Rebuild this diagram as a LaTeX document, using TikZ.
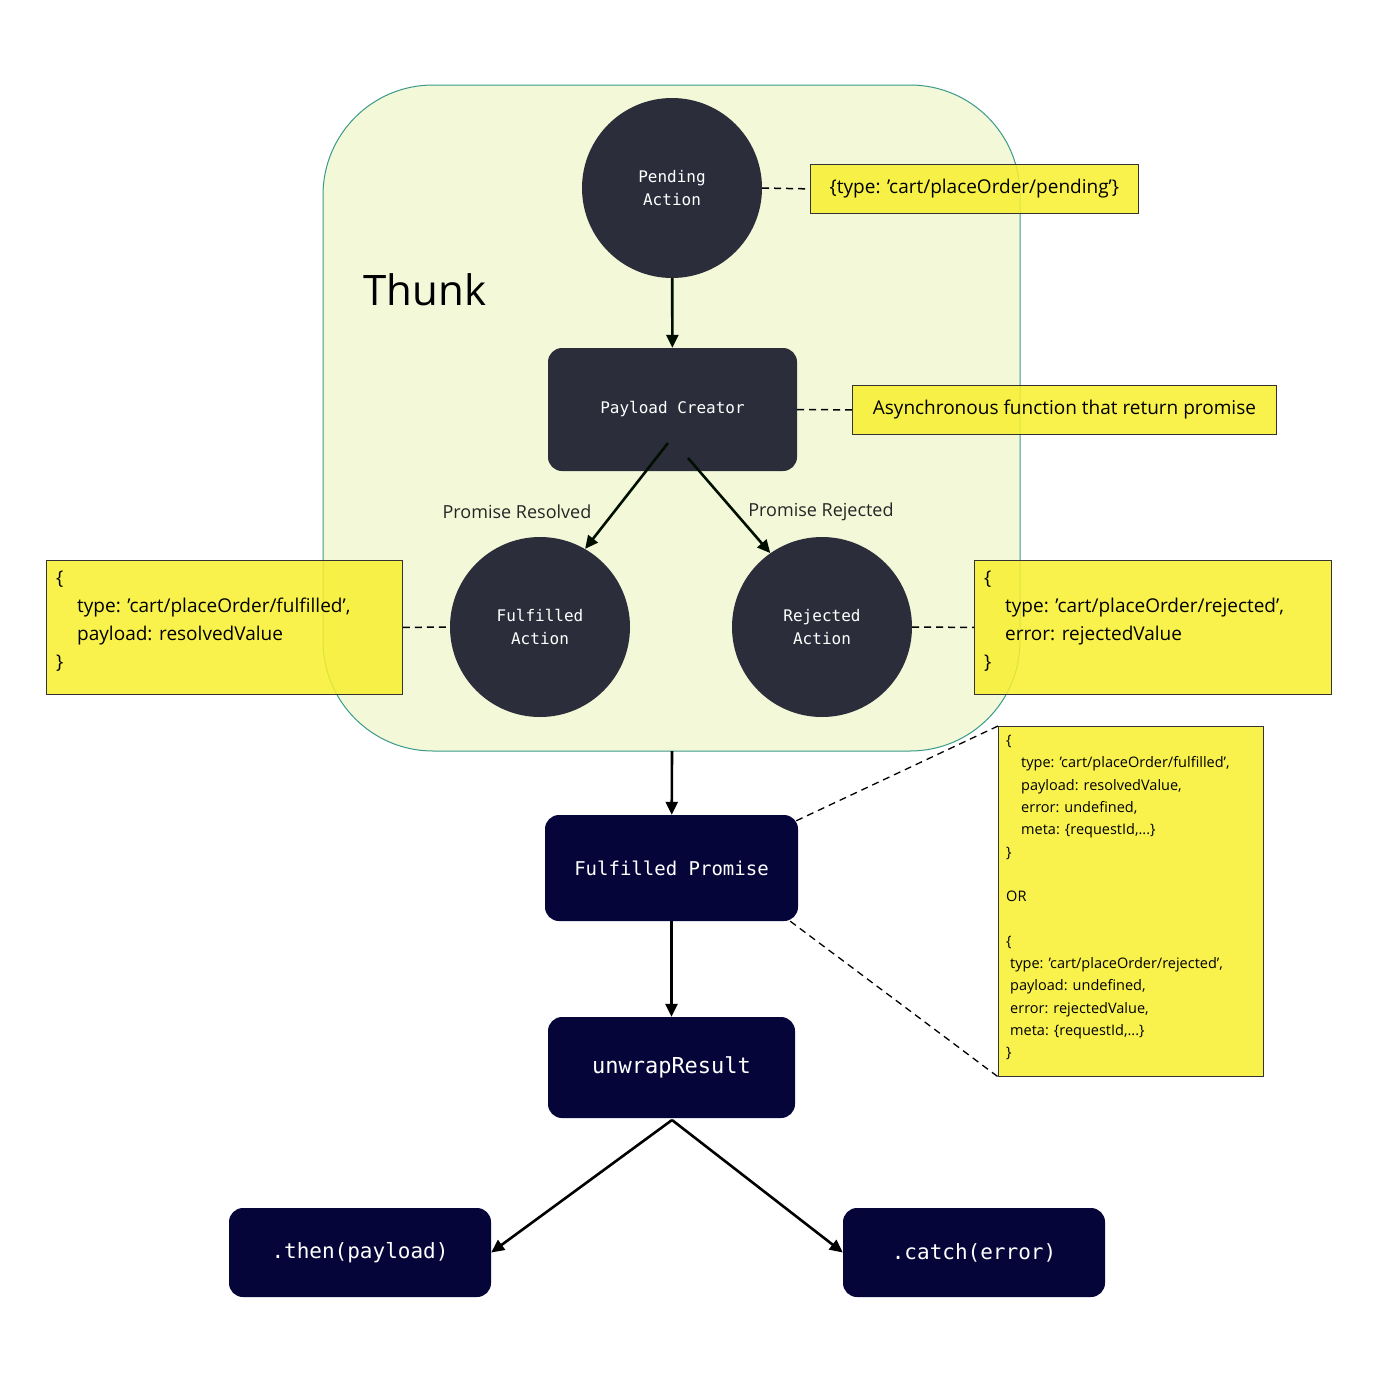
\documentclass[tikz,border=0pt]{standalone}
\usepackage{fontspec}
\setmainfont{Open Sans}
\newfontfamily\mono{DejaVu Sans Mono}
\usetikzlibrary{arrows.meta}
\definecolor{thunkfill}{HTML}{F3F8D9}
\definecolor{thunkline}{HTML}{3A9A8A}
\definecolor{dk}{HTML}{2B2D3A}
\definecolor{navy}{HTML}{06053A}
\definecolor{note}{HTML}{F8F02E}
\begin{document}
\begin{tikzpicture}[x=1pt,y=-1pt,
  circ/.style={circle,fill=dk,minimum size=180pt,inner sep=0,text=white,font=\mono\fontsize{16}{23}\selectfont,align=center},
  dbox/.style={rounded corners=14pt,fill=#1,text=white,inner sep=0},
  notebox/.style={draw=black!80,fill=note,fill opacity=0.85,text opacity=1,line width=0.8pt},
  ntext/.style={font=\fontsize{19}{28}\selectfont,align=left,anchor=north west,inner sep=0},
  stext/.style={font=\fontsize{14.5}{22.3}\selectfont,align=left,anchor=north west,inner sep=0},
  arr/.style={line width=2.6pt,-{Triangle[length=13pt,width=12pt]}},
  dsh/.style={dashed,dash pattern=on 7pt off 5pt,line width=1.5pt}]
\useasboundingbox (0,0) rectangle (1400,1374);
\fill[white] (0,0) rectangle (1400,1374);
\draw[fill=thunkfill,draw=thunkline,line width=1pt,rounded corners=110pt] (323,85) rectangle (1020,751);
\node[font=\fontsize{42}{50}\selectfont] (thunk) at (425,290) {Thunk};
\node[circ] (pend) at (672,188) {Pending\\Action};
\node[dbox=dk,minimum width=249pt,minimum height=123pt,font=\mono\fontsize{16}{20}\selectfont] (pc) at (672.5,409.5) {Payload Creator};
\node[circ] (ful) at (540,627) {Fulfilled\\Action};
\node[circ] (rej) at (822,627) {Rejected\\Action};
\node[font=\fontsize{18}{22}\selectfont,text=black!85] (lres) at (517,512) {Promise Resolved};
\node[font=\fontsize{18}{22}\selectfont,text=black!85] (lrej) at (821,512) {Promise Rejected};
\draw[arr,draw=black!85!green!40!black] (pend) -- (pc);
\coordinate (pa) at (668,443); \coordinate (pb) at (688,458);
\draw[arr,draw=black!85!green!40!black] (pa) -- (ful.60);
\draw[arr,draw=black!85!green!40!black] (pb) -- (rej.125);
% notes
\node[notebox,minimum width=328pt,minimum height=49pt,anchor=north west] (n1) at (810,164) {};
\node[font=\fontsize{19}{22}\selectfont] (t1) at (n1) {\{type: 'cart/placeOrder/pending'\}};
\node[notebox,minimum width=424pt,minimum height=49pt,anchor=north west] (n2) at (852,385) {};
\node[font=\fontsize{19}{22}\selectfont] (t2) at (n2) {Asynchronous function that return promise};
\node[notebox,minimum width=356pt,minimum height=134pt,anchor=north west] (n3) at (46,560) {};
\node[ntext] (t3) at (56,571) {\{\\\hspace*{21pt}type: 'cart/placeOrder/fulfilled',\\\hspace*{21pt}payload: resolvedValue\\\}};
\node[notebox,minimum width=357pt,minimum height=134pt,anchor=north west] (n4) at (974,560) {};
\node[ntext] (t4) at (984,571) {\{\\\hspace*{21pt}type: 'cart/placeOrder/rejected',\\\hspace*{21pt}error: rejectedValue\\\}};
\node[notebox,minimum width=265pt,minimum height=350pt,anchor=north west] (n5) at (998,726) {};
\node[stext] (t5) at (1006,735) {\{\\\hspace*{15pt}type: 'cart/placeOrder/fulfilled',\\\hspace*{15pt}payload: resolvedValue,\\\hspace*{15pt}error: undefined,\\\hspace*{15pt}meta: \{requestId,...\}\\\}\\[22.3pt]OR\\[22.3pt]\{\\\hspace*{4pt}type: 'cart/placeOrder/rejected',\\\hspace*{4pt}payload: undefined,\\\hspace*{4pt}error: rejectedValue,\\\hspace*{4pt}meta: \{requestId,...\}\\\}};
\draw[dsh] (pend.east) -- (n1.west);
\draw[dsh] (pc.east) -- (n2.west);
\draw[dsh] (n3.east) -- (ful.west);
\draw[dsh] (rej.east) -- (n4.west);
% lower
\node[dbox=navy,minimum width=253pt,minimum height=106pt,font=\mono\fontsize{19}{22}\selectfont] (fp) at (671.5,868) {Fulfilled Promise};
\node[dbox=navy,minimum width=247pt,minimum height=101pt,font=\mono\fontsize{22}{26}\selectfont] (uw) at (671.5,1067.5) {unwrapResult};
\node[dbox=navy,minimum width=262pt,minimum height=89pt,font=\mono\fontsize{21}{26}\selectfont] (th) at (360,1252.5) {.then(payload)};
\node[dbox=navy,minimum width=262pt,minimum height=89pt,font=\mono\fontsize{21}{26}\selectfont] (ca) at (974,1252.5) {.catch(error)};
\coordinate (tb) at (672,751);
\coordinate (ub) at (672,1120);
\draw[arr] (tb) -- (fp);
\draw[arr] (fp) -- (uw);
\draw[arr] (ub) -- (th.east);
\draw[arr] (ub) -- (ca.west);
\draw[dsh,line width=1.3pt] (fp.north east) ++(-2,6) coordinate (fa) (fa) -- (n5.north west);
\draw[dsh,line width=1.3pt] (fp.south east) ++(-8,0) coordinate (fb) (fb) -- (n5.south west);
\end{tikzpicture}
\end{document}
